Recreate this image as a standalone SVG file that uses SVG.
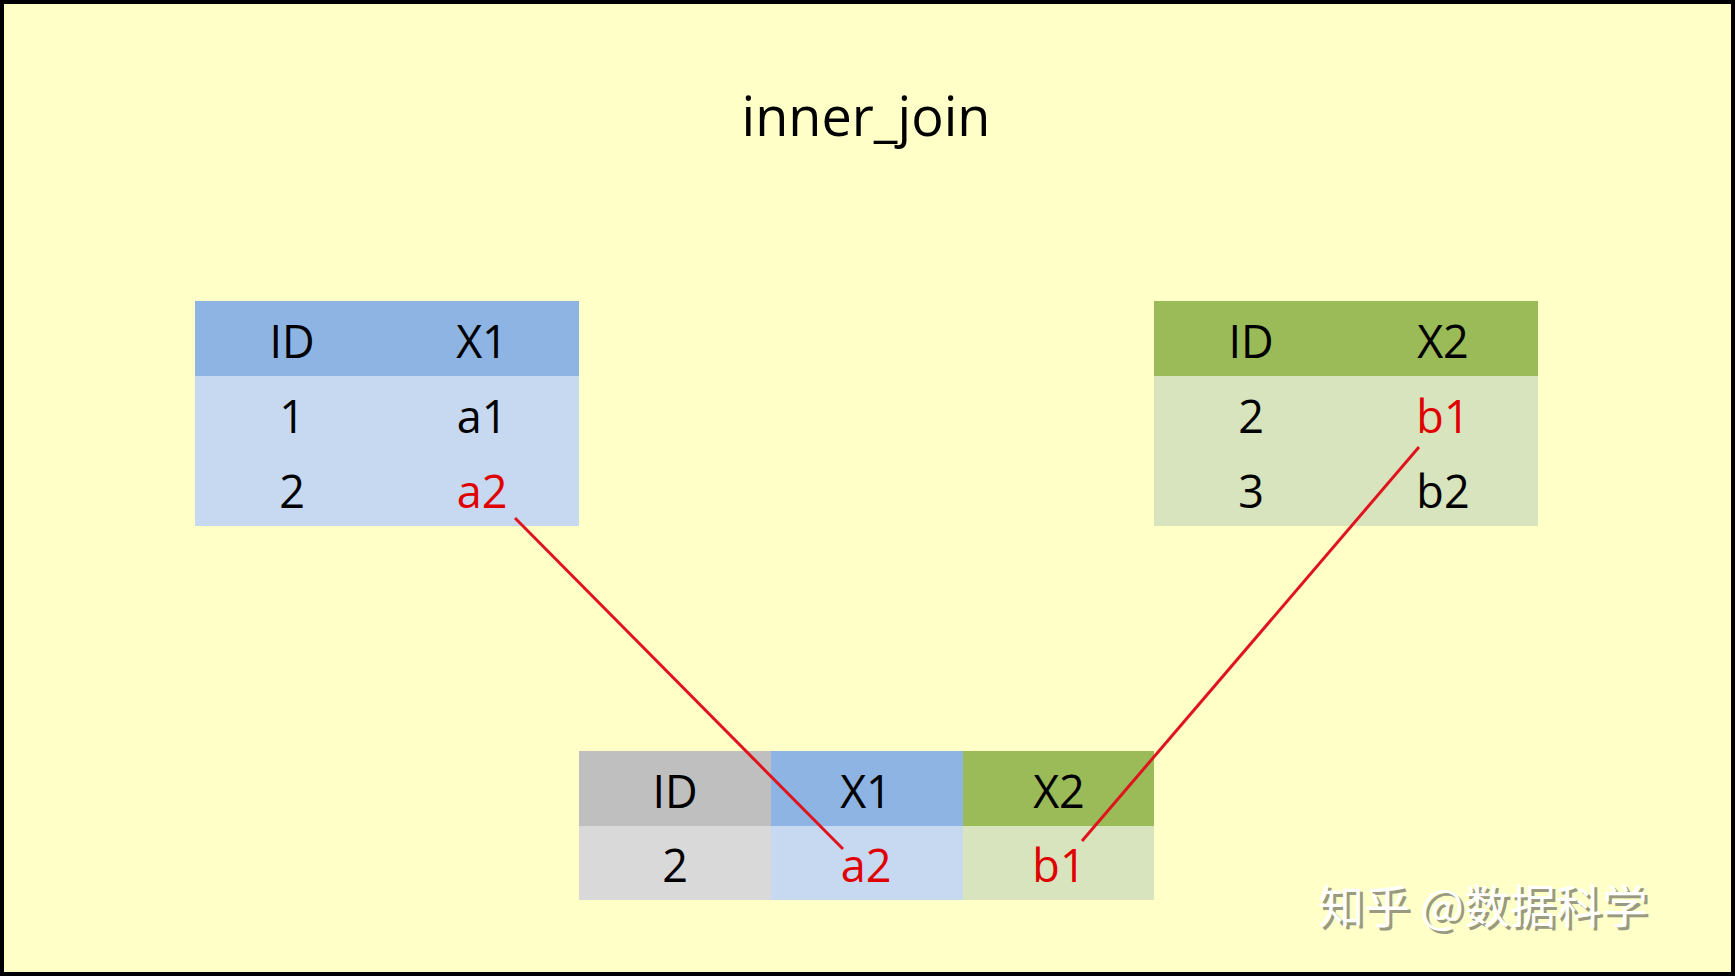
<svg xmlns="http://www.w3.org/2000/svg" width="1735" height="976" viewBox="0 0 1735 976">
<style>
text{font-family:"Open Sans","Liberation Sans",sans-serif;text-anchor:middle;font-size:45px;fill:#000}
.r{fill:#e00000}
.wm{font-family:"Noto Sans CJK SC",sans-serif;font-size:46px;text-anchor:start}
</style>
<rect x="2" y="2" width="1731" height="972" fill="#ffffc8" stroke="#000" stroke-width="4"/>
<text x="866" y="136" style="font-size:54px">inner_join</text>
<g id="left">
<rect x="195" y="301" width="384" height="75" fill="#8eb4e3"/>
<rect x="195" y="376" width="384" height="150" fill="#c6d9f1"/>
<text x="292" y="358">ID</text><text x="482" y="358">X1</text>
<text x="292" y="433">1</text><text x="482" y="433">a1</text>
<text x="292" y="508">2</text><text x="482" y="508" class="r">a2</text>
</g>
<g id="right">
<rect x="1154" y="301" width="384" height="75" fill="#9bbb59"/>
<rect x="1154" y="376" width="384" height="150" fill="#d7e4bd"/>
<text x="1251" y="358">ID</text><text x="1443" y="358">X2</text>
<text x="1251" y="433">2</text><text x="1443" y="433" class="r">b1</text>
<text x="1251" y="508">3</text><text x="1443" y="508">b2</text>
</g>
<g id="result">
<rect x="579" y="751" width="192" height="75" fill="#bfbfbf"/>
<rect x="771" y="751" width="192" height="75" fill="#8eb4e3"/>
<rect x="963" y="751" width="191" height="75" fill="#9bbb59"/>
<rect x="579" y="826" width="192" height="74" fill="#d9d9d9"/>
<rect x="771" y="826" width="192" height="74" fill="#c6d9f1"/>
<rect x="963" y="826" width="191" height="74" fill="#d7e4bd"/>
<text x="675" y="808">ID</text><text x="866" y="808">X1</text><text x="1059" y="808">X2</text>
<text x="675" y="882">2</text><text x="866" y="882" class="r">a2</text><text x="1059" y="882" class="r">b1</text>
</g>
<g id="connectors" stroke="#e0141e" stroke-width="3" fill="none">
<line x1="515" y1="518" x2="843" y2="849"/>
<line x1="1419" y1="447" x2="1082" y2="841"/>
</g>
<text class="wm" x="1321" y="926" fill="#a0a080" style="fill:#9a9a80">知乎 @数据科学</text>
<text class="wm" x="1318" y="923" style="fill:#ffffff">知乎 @数据科学</text>
</svg>
